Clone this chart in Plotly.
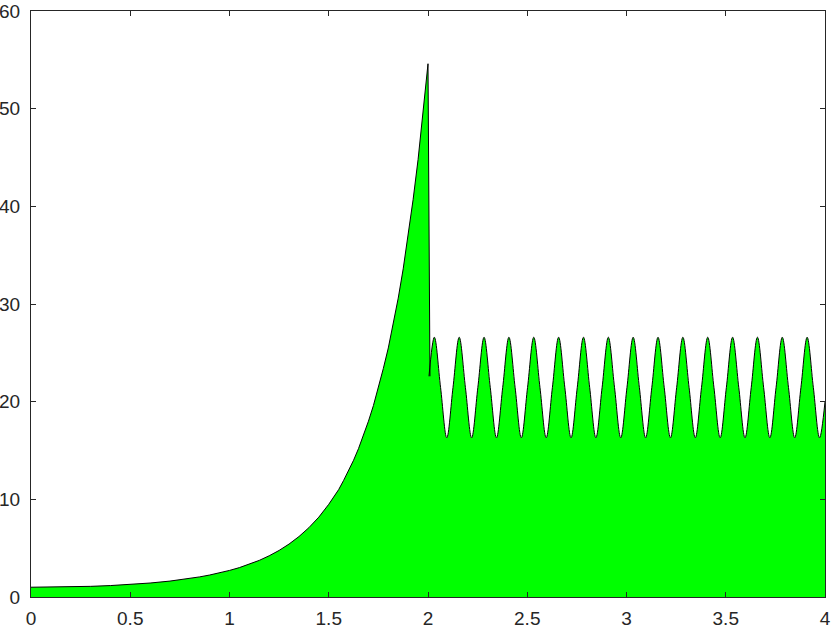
import plotly.graph_objects as go

# Rising part, x from 0 to 2, then the drop at x = 2
x_rise = [0.0, 0.1, 0.2, 0.3, 0.4, 0.5, 0.6, 0.7, 0.8, 0.85, 0.9, 0.95, 1.0, 1.05, 1.1, 1.15,
          1.2, 1.25, 1.3, 1.35, 1.4, 1.45, 1.5, 1.525, 1.55, 1.575, 1.6, 1.625, 1.65, 1.675,
          1.7, 1.725, 1.75, 1.775, 1.8, 1.825, 1.85, 1.875, 1.9, 1.925, 1.95, 1.975, 2.0, 2.01]
y_rise = [1.0, 1.01, 1.04, 1.09, 1.17, 1.28, 1.43, 1.63, 1.9, 2.06, 2.25, 2.47, 2.72, 3.01, 3.35, 3.75,
          4.22, 4.77, 5.42, 6.19, 7.1, 8.18, 9.49, 10.2, 11.0, 11.94, 12.9, 14.0, 15.2, 16.5,
          18.0, 19.6, 21.4, 23.4, 25.5, 27.9, 30.6, 33.6, 37.0, 40.7, 44.8, 49.4, 54.6, 22.6]

# Oscillating part after x = 2 (peaks ~26.6, troughs ~16.3)
x_osc = [2.005, 2.032, 2.0633, 2.0946,
         2.1259, 2.1572, 2.1885, 2.2198,
         2.2511, 2.2824, 2.3137, 2.3450,
         2.3763, 2.4076, 2.4389, 2.4702,
         2.5015, 2.5328, 2.5641, 2.5954,
         2.6267, 2.6580, 2.6893, 2.7206,
         2.7519, 2.7832, 2.8145, 2.8458,
         2.8771, 2.9084, 2.9397, 2.9710,
         3.0023, 3.0336, 3.0649, 3.0962,
         3.1275, 3.1588, 3.1901, 3.2214,
         3.2527, 3.2840, 3.3153, 3.3466,
         3.3779, 3.4092, 3.4405, 3.4718,
         3.5031, 3.5344, 3.5657, 3.5970,
         3.6283, 3.6596, 3.6909, 3.7222,
         3.7535, 3.7848, 3.8161, 3.8474,
         3.8787, 3.9100, 3.9413, 3.9726,
         4.0]
y_osc = [22.6, 26.6, 21.45, 16.3,
         21.45, 26.6, 21.45, 16.3,
         21.45, 26.6, 21.45, 16.3,
         21.45, 26.6, 21.45, 16.3,
         21.45, 26.6, 21.45, 16.3,
         21.45, 26.6, 21.45, 16.3,
         21.45, 26.6, 21.45, 16.3,
         21.45, 26.6, 21.45, 16.3,
         21.45, 26.6, 21.45, 16.3,
         21.45, 26.6, 21.45, 16.3,
         21.45, 26.6, 21.45, 16.3,
         21.45, 26.6, 21.45, 16.3,
         21.45, 26.6, 21.45, 16.3,
         21.45, 26.6, 21.45, 16.3,
         21.45, 26.6, 21.45, 16.3,
         21.45, 26.6, 21.45, 16.3,
         20.0]

x_ticks = [0, 0.5, 1, 1.5, 2, 2.5, 3, 3.5, 4]
x_tick_labels = ["0", "0.5", "1", "1.5", "2", "2.5", "3", "3.5", "4"]
y_ticks = [0, 10, 20, 30, 40, 50, 60]
y_tick_labels = ["0", "10", "20", "30", "40", "50", "60"]

GREEN = "#00FF00"

fig = go.Figure()
# fill of the rising part (outline drawn separately on top)
fig.add_trace(go.Scatter(x=x_rise, y=y_rise, mode="lines", fill="tozeroy",
                         fillcolor=GREEN, line=dict(color=GREEN, width=0),
                         showlegend=False, hoverinfo="skip"))
# oscillating part, filled and outlined
fig.add_trace(go.Scatter(x=x_osc, y=y_osc, mode="lines", fill="tozeroy",
                         fillcolor=GREEN, line=dict(color="black", width=1, shape="spline"),
                         showlegend=False, hoverinfo="skip"))
# outline of the rising part
fig.add_trace(go.Scatter(x=x_rise, y=y_rise, mode="lines",
                         line=dict(color="black", width=1),
                         showlegend=False, hoverinfo="skip"))

axis_common = dict(showline=True, linecolor="#262626", linewidth=1, mirror="ticks",
                   ticks="inside", ticklen=5, tickcolor="#262626", showgrid=False,
                   zeroline=False, automargin=False,
                   tickfont=dict(family="Liberation Sans, Arial", size=19, color="#262626"))
fig.update_xaxes(range=[0, 4], tickvals=x_ticks, ticktext=x_tick_labels,
                 ticklabelstandoff=4, **axis_common)
fig.update_yaxes(range=[0, 60], tickvals=y_ticks, ticktext=y_tick_labels,
                 ticklabelstandoff=6, **axis_common)

fig.update_layout(width=840, height=630,
                  margin=dict(l=31, r=15, t=11, b=33, autoexpand=False),
                  plot_bgcolor="white", paper_bgcolor="white")
fig.write_html("out.html", config={"displayModeBar": False},
               post_script="document.body.style.margin='0';")
